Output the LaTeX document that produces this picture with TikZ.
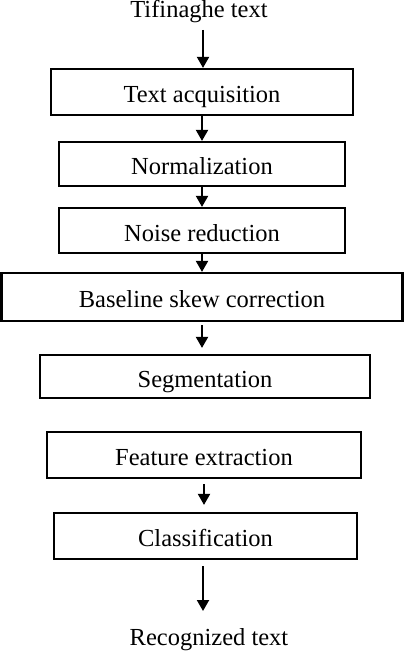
\documentclass[tikz,border=0pt]{standalone}
\usepackage{fontspec}
\setmainfont{Liberation Serif}
\usetikzlibrary{arrows.meta}
\begin{document}
\begin{tikzpicture}[x=1pt,y=-1pt,
  stepbox/.style={draw=black,line width=2.2pt,rectangle,inner sep=0pt,
    font=\fontsize{24.5}{27}\selectfont,text height=21pt,text depth=0pt},
  lbl/.style={inner sep=0pt,font=\fontsize{24.5}{27}\selectfont,anchor=base},
  arr/.style={line width=2pt,-{Triangle[length=11pt,width=12pt]}}]
\useasboundingbox (0,0) rectangle (404,652);
\node[lbl] (top) at (199,18) {Tifinaghe text};
\node[stepbox,minimum width=302pt,minimum height=46pt] (b1) at (202,92) {Text acquisition};
\node[stepbox,minimum width=286pt,minimum height=44pt] (b2) at (202,164) {Normalization};
\node[stepbox,minimum width=286pt,minimum height=45pt] (b3) at (202,230.5) {Noise reduction};
\node[stepbox,minimum width=401pt,minimum height=48pt] (b4) at (202,297) {Baseline skew correction};
\node[stepbox,minimum width=330pt,minimum height=43pt] (b5) at (205,376.5) {Segmentation};
\node[stepbox,minimum width=314pt,minimum height=46pt] (b6) at (204,455) {Feature extraction};
\node[stepbox,minimum width=303pt,minimum height=46pt] (b7) at (205.5,536) {Classification};
\node[lbl] (bot) at (209,645.5) {Recognized text};
\coordinate (c0) at (203,30);
\coordinate (c8) at (203,611);
\draw[arr] (c0) -- (c0 |- b1.north);
\draw[arr] (b1.south) -- (b2.north);
\draw[arr] (b2.south) -- (b3.north);
\draw[arr] (b3.south) -- (b4.north);
\draw[arr,shorten <=3pt,shorten >=6pt] (b4.south) -- (b4.south |- b5.north);
\draw[arr,shorten <=5pt,shorten >=7pt] (b6.south) -- (b6.south |- b7.north);
\draw[arr,shorten <=6pt] (c8 |- b7.south) -- (c8);
\end{tikzpicture}
\end{document}
